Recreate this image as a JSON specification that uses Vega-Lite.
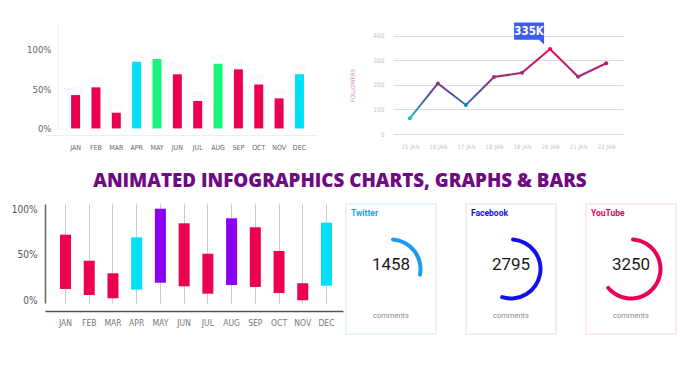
{
  "$schema": "https://vega.github.io/schema/vega-lite/v6.json",
  "background": "white",
  "padding": {"left": 0, "top": 22, "right": 0, "bottom": 0},
  "spacing": 0,
  "resolve": {"scale": {"color": "independent", "x": "independent", "y": "independent"}},
  "config": {
    "view": {"stroke": null},
    "axis": {"labelFont": "Liberation Sans Narrow, DejaVu Sans Condensed, sans-serif", "titleFont": "Liberation Sans Narrow, DejaVu Sans Condensed, sans-serif", "grid": false, "ticks": false},
    "text": {"font": "Roboto"}
  },
  "datasets": {
    "bars": [
      {"month": "JAN", "value": 42.5, "kind": "base", "label": "40%"},
      {"month": "FEB", "value": 52.4, "kind": "base", "label": "50%"},
      {"month": "MAR", "value": 20, "kind": "base", "label": "15%"},
      {"month": "APR", "value": 85, "kind": "alt", "label": "85%"},
      {"month": "MAY", "value": 88.4, "kind": "peak", "label": "90%"},
      {"month": "JUN", "value": 69, "kind": "base", "label": "70%"},
      {"month": "JUL", "value": 35, "kind": "base", "label": "35%"},
      {"month": "AUG", "value": 82.4, "kind": "peak", "label": "80%"},
      {"month": "SEP", "value": 75.3, "kind": "base", "label": "75%"},
      {"month": "OCT", "value": 56, "kind": "base", "label": "55%"},
      {"month": "NOV", "value": 38.3, "kind": "base", "label": "40%"},
      {"month": "DEC", "value": 69, "kind": "alt", "label": "70%"}
    ],
    "candles": [
      {"month": "JAN", "low": 12.5, "high": 72.4, "kind": "base"},
      {"month": "FEB", "low": 5.8, "high": 43.7, "kind": "base"},
      {"month": "MAR", "low": 2.2, "high": 29.8, "kind": "base"},
      {"month": "APR", "low": 11.7, "high": 69.5, "kind": "alt"},
      {"month": "MAY", "low": 19.4, "high": 101.1, "kind": "peak"},
      {"month": "JUN", "low": 15.4, "high": 85, "kind": "base"},
      {"month": "JUL", "low": 7.3, "high": 51.4, "kind": "base"},
      {"month": "AUG", "low": 16.9, "high": 90.5, "kind": "peak"},
      {"month": "SEP", "low": 14.7, "high": 80.6, "kind": "base"},
      {"month": "OCT", "low": 8, "high": 54.4, "kind": "base"},
      {"month": "NOV", "low": 0, "high": 18.8, "kind": "base"},
      {"month": "DEC", "low": 16.1, "high": 85.7, "kind": "alt"}
    ],
    "followers": [
      {"day": "15 JAN", "followers": 64},
      {"day": "16 JAN", "followers": 206},
      {"day": "17 JAN", "followers": 118},
      {"day": "18 JAN", "followers": 232},
      {"day": "19 JAN", "followers": 249},
      {"day": "20 JAN", "followers": 346},
      {"day": "21 JAN", "followers": 233},
      {"day": "22 JAN", "followers": 288}
    ],
    "peak": [{"day": "20 JAN", "followers": 346, "label": "335K"}],
    "selected": [{"day": "15 JAN"}]
  },
  "vconcat": [
    {
      "hconcat": [
        {
          "width": 272,
          "height": 108,
          "data": {"name": "bars"},
          "encoding": {
            "x": {"field": "month", "type": "nominal", "scale": {"domain": ["JAN","FEB","MAR","APR","MAY","JUN","JUL","AUG","SEP","OCT","NOV","DEC"], "paddingInner": 0.548, "paddingOuter": 0.957, "align": 0.6675},
              "axis": {"title": null, "offset": 5, "domain": true, "domainColor": "#eeeeee", "domainWidth": 1, "labelPadding": 8, "labelFontSize": 7, "labelColor": "#666666", "labelAngle": 0, "minExtent": 16, "maxExtent": 16}},
            "y": {"field": "value", "type": "quantitative", "scale": {"domain": [-2, 135.6], "nice": false, "zero": false},
              "axis": {"title": null, "offset": -13, "values": [0, 50, 100], "labelExpr": "datum.value + '%'", "domain": true, "domainColor": "#eeeeee", "labelPadding": 7, "labelFontSize": 9.5, "labelColor": "#666666", "minExtent": 45, "maxExtent": 45}}
          },
          "layer": [
            {"mark": {"type": "bar", "size": 9},
             "encoding": {"y2": {"datum": 0}, "color": {"field": "kind", "type": "nominal", "scale": {"domain": ["base", "alt", "peak"], "range": ["#ec0052", "#00e1f7", "#17f57c"]}, "legend": null}}},
            {"mark": {"type": "text", "dy": -6, "fontSize": 7, "color": "#f4f4f4", "font": "Liberation Sans Narrow, DejaVu Sans Condensed, sans-serif"},
             "encoding": {"text": {"field": "label", "type": "nominal"}}}
          ]
        },
        {
          "width": 230,
          "height": 112,
          "encoding": {
            "x": {"field": "day", "type": "ordinal", "scale": {"type": "point", "domain": ["15 JAN","16 JAN","17 JAN","18 JAN","19 JAN","20 JAN","21 JAN","22 JAN"], "padding": 0.6, "align": 0.5},
              "axis": {"title": null, "domain": false, "labelPadding": 9, "labelFontSize": 6, "labelColor": "#c4c4c4", "labelAngle": 0, "minExtent": 17, "maxExtent": 17}},
            "y": {"field": "followers", "type": "quantitative", "scale": {"domain": [0, 456], "nice": false, "zero": true},
              "axis": {"title": "FOLLOWERS", "titleColor": "#e58cc4", "titleFontSize": 6, "titleFontWeight": "normal", "titlePadding": 8, "titleY": 63, "values": [0, 100, 200, 300, 400], "grid": true, "gridColor": "#dddddd", "gridWidth": 1, "domain": false, "labelPadding": 9, "labelFontSize": 6.5, "labelColor": "#c4c4c4", "minExtent": 30, "maxExtent": 30}}
          },
          "layer": [
            {"data": {"name": "followers"},
             "mark": {"type": "line", "strokeWidth": 2, "color": {"gradient": "linear", "x1": 0, "y1": 1, "x2": 0, "y2": 0, "stops": [{"offset": 0, "color": "#14c2c2"}, {"offset": 0.35, "color": "#5b4aa6"}, {"offset": 0.62, "color": "#a02a78"}, {"offset": 1, "color": "#f0004a"}]}}},
            {"data": {"name": "followers"},
             "mark": {"type": "point", "filled": true, "size": 16, "opacity": 1},
             "encoding": {"color": {"field": "followers", "type": "quantitative", "scale": {"domain": [64, 163, 239, 346], "range": ["#14c2c2", "#5b4aa6", "#a02a78", "#f0004a"]}, "legend": null}}},
            {"data": {"name": "peak"},
             "mark": {"type": "point", "filled": true, "opacity": 1, "size": 400, "color": "#3d5cf0", "shape": "M-3.6,-2.65H-0.6V-0.45L-1.1,-0.93H-3.6Z"}},
            {"data": {"name": "peak"},
             "mark": {"type": "text", "dx": -21, "dy": -17.5, "fontSize": 11.5, "fontWeight": "bold", "color": "white", "font": "Liberation Sans Narrow, DejaVu Sans Condensed, sans-serif"},
             "encoding": {"text": {"field": "label", "type": "nominal"}}},
            {"data": {"name": "selected"},
             "mark": {"type": "tick", "orient": "horizontal", "size": 12, "thickness": 1.5, "color": "#f06ab0"},
             "encoding": {"y": {"datum": -67}}}
          ]
        }
      ],
      "spacing": 32,
      "resolve": {"scale": {"color": "independent", "x": "independent", "y": "independent"}}
    },
    {
      "width": 590,
      "height": 52,
      "data": {"values": [{"headline": "ANIMATED INFOGRAPHICS CHARTS, GRAPHS & BARS"}]},
      "mark": {"type": "text", "font": "Open Sans", "fontWeight": 800, "fontSize": 18.8, "color": "#6e0a82", "dy": 3.5, "baseline": "middle"},
      "encoding": {"text": {"field": "headline", "type": "nominal"}}
    },
    {
      "hconcat": [
        {
          "width": 298,
          "height": 99,
          "data": {"name": "candles"},
          "mark": {"type": "bar", "size": 11},
          "encoding": {
            "x": {"field": "month", "type": "nominal", "scale": {"domain": ["JAN","FEB","MAR","APR","MAY","JUN","JUL","AUG","SEP","OCT","NOV","DEC"], "paddingInner": 0.536, "paddingOuter": 0.548, "align": 0.577},
              "axis": {"title": null, "offset": 8, "domain": true, "domainColor": "#555555", "domainWidth": 1.5, "grid": true, "gridColor": "#cccccc", "gridWidth": 1, "bandPosition": 0.5, "labelPadding": 7, "labelFontSize": 8.5, "labelColor": "#777777", "labelAngle": 0}},
            "y": {"field": "high", "type": "quantitative", "scale": {"domain": [-3, 106.3], "nice": false, "zero": false},
              "axis": {"title": null, "values": [0, 50, 100], "labelExpr": "datum.value + '%'", "domain": true, "domainColor": "#666666", "domainWidth": 1.5, "labelPadding": 8, "labelFontSize": 10, "labelColor": "#555555", "minExtent": 45, "maxExtent": 45}},
            "y2": {"field": "low"},
            "color": {"field": "kind", "type": "nominal", "scale": {"domain": ["base", "alt", "peak"], "range": ["#ec0052", "#00e1f7", "#8c00f5"]}, "legend": null}
          }
        },
        {
          "hconcat": [
            {
              "width": 90, "height": 130,
              "view": {"stroke": "#e9f3fc", "strokeWidth": 2, "fill": "white"},
              "data": {"values": [{"platform": "Twitter", "comments": 1458, "metric": "comments"}]},
              "layer": [
                {"mark": {"type": "arc", "radius": 31.5, "radius2": 27.5, "cornerRadius": 2, "color": "#1d9bf0"},
                 "encoding": {"theta": {"field": "comments", "type": "quantitative", "scale": {"domain": [0, 5000], "range": [0, 6.2832]}}}},
                {"mark": {"type": "text", "fontSize": 17, "color": "#1a1a1a", "dy": -4}, "encoding": {"text": {"field": "comments", "type": "nominal"}}},
                {"mark": {"type": "text", "fontSize": 8.5, "fontWeight": "bold", "align": "left", "dx": -40, "dy": -56, "color": "#1d9bf0"}, "encoding": {"text": {"field": "platform", "type": "nominal"}}},
                {"mark": {"type": "text", "fontSize": 7.5, "color": "#8a8a8a", "dy": 47}, "encoding": {"text": {"field": "metric", "type": "nominal"}}}
              ]
            },
            {
              "width": 90, "height": 130,
              "view": {"stroke": "#ededfc", "strokeWidth": 2, "fill": "white"},
              "data": {"values": [{"platform": "Facebook", "comments": 2795, "metric": "comments"}]},
              "layer": [
                {"mark": {"type": "arc", "radius": 31.5, "radius2": 27.5, "cornerRadius": 2, "color": "#1212e8"},
                 "encoding": {"theta": {"field": "comments", "type": "quantitative", "scale": {"domain": [0, 5000], "range": [0, 6.2832]}}}},
                {"mark": {"type": "text", "fontSize": 17, "color": "#1a1a1a", "dy": -4}, "encoding": {"text": {"field": "comments", "type": "nominal"}}},
                {"mark": {"type": "text", "fontSize": 8.5, "fontWeight": "bold", "align": "left", "dx": -40, "dy": -56, "color": "#1212e8"}, "encoding": {"text": {"field": "platform", "type": "nominal"}}},
                {"mark": {"type": "text", "fontSize": 7.5, "color": "#8a8a8a", "dy": 47}, "encoding": {"text": {"field": "metric", "type": "nominal"}}}
              ]
            },
            {
              "width": 90, "height": 130,
              "view": {"stroke": "#fdeaf1", "strokeWidth": 2, "fill": "white"},
              "data": {"values": [{"platform": "YouTube", "comments": 3250, "metric": "comments"}]},
              "layer": [
                {"mark": {"type": "arc", "radius": 31.5, "radius2": 27.5, "cornerRadius": 2, "color": "#e8005a"},
                 "encoding": {"theta": {"field": "comments", "type": "quantitative", "scale": {"domain": [0, 5000], "range": [0, 6.2832]}}}},
                {"mark": {"type": "text", "fontSize": 17, "color": "#1a1a1a", "dy": -4}, "encoding": {"text": {"field": "comments", "type": "nominal"}}},
                {"mark": {"type": "text", "fontSize": 8.5, "fontWeight": "bold", "align": "left", "dx": -40, "dy": -56, "color": "#e8005a"}, "encoding": {"text": {"field": "platform", "type": "nominal"}}},
                {"mark": {"type": "text", "fontSize": 7.5, "color": "#8a8a8a", "dy": 47}, "encoding": {"text": {"field": "metric", "type": "nominal"}}}
              ]
            }
          ],
          "spacing": 28,
          "resolve": {"scale": {"theta": "independent"}}
        }
      ],
      "spacing": 2,
      "resolve": {"scale": {"color": "independent", "x": "independent", "y": "independent"}}
    }
  ]
}
